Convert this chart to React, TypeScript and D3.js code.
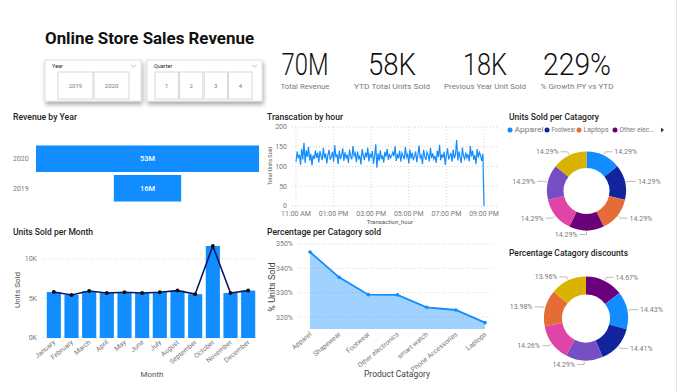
import React from 'react'
import * as d3 from 'd3'

const kpiValues = ['70M', '58K', '18K', '229%']
const kpiLabels = ['Total Revenue', 'YTD Total Units Sold', 'Previous Year Unit Sold', '% Growth PY vs YTD']

const yearButtons = ['2019', '2020']
const quarterButtons = ['1', '2', '3', '4']

const revenueYears = ['2020', '2019']
const revenueM = [53, 16]

// units sold per transaction slot, 11:00 AM .. 09:00 PM
const unitsByHour = [
  112, 138, 121, 130, 104, 145, 118, 160, 109, 141, 124, 150, 115, 132, 103,
  128, 119, 140, 122, 135, 110, 139, 126, 116, 147, 121, 133, 108, 129, 142,
  117, 125, 137, 112, 154, 123, 131, 106, 140, 119, 128, 146, 114, 136, 122,
  130, 109, 143, 125, 118, 152, 127, 134, 111, 138, 120, 126, 105, 144, 129,
  116, 135, 123, 148, 113, 131, 124, 139, 107, 127, 156, 97, 133, 115, 141,
  119, 128, 110, 137, 125, 145, 117, 132, 122, 128, 136, 126, 151, 114, 129,
  121, 140, 112, 134, 127, 118, 149, 124, 131, 108, 143, 120, 135, 116, 126,
  138, 111, 130, 153, 122, 128, 106, 142, 125, 117, 136, 129, 113, 147, 121,
  133, 119, 127, 109, 140, 124, 155, 116, 131, 122, 137, 104, 128, 146, 118,
  126, 134, 112, 143, 121, 130, 167, 115, 138, 124, 109, 148, 127, 119, 135,
  122, 131, 113, 152, 125, 140, 117, 129, 106, 144, 123, 136, 128, 114, 132, 0,
]
const hourTickValues = [0, 50, 100, 150, 200]

const months = ['January', 'February', 'March', 'April', 'May', 'June', 'July', 'August', 'September', 'October', 'November', 'December']
const unitsPerMonth = [5820, 5440, 5950, 5700, 5800, 5700, 5800, 6000, 5550, 11650, 5700, 6000]
const monthTicks = [0, 5000, 10000]

const productCats = ['Apparel', 'Shapewear', 'Footwear', 'Other electronics', 'smart watch', 'Phone Accessories', 'Laptops']
const pctUnitsSold = [346.7, 336.3, 329.2, 329.1, 324.0, 322.9, 317.7]
const pctTicks = [320, 330, 340, 350]

const donutCats = ['Apparel', 'Footwear', 'Laptops', 'Other electronics', 'Phone Accessories', 'Shapewear', 'smart watch']
const donutColors = ['#118DFF', '#12239E', '#E66C37', '#6B007B', '#E044A7', '#744EC2', '#D9B300']
const unitsShare = [14.29, 14.29, 14.29, 14.29, 14.29, 14.29, 14.29]
const discountCats = ['Other electronics', 'Apparel', 'Footwear', 'Shapewear', 'Phone Accessories', 'Laptops', 'smart watch']
const discountShare = [14.67, 14.43, 14.41, 14.29, 14.26, 13.98, 13.96]

const FONT = 'Roboto, "DejaVu Sans", sans-serif'
const GRAY = '#7a7a7a'
const DARK = '#252423'

const colorOf = (c: string) => donutColors[donutCats.indexOf(c)]

function Title({ x, y, text, w }: { x: number; y: number; text: string; w: number }) {
  return (
    <text x={x} y={y} fontSize={9.5} fontWeight={500} fill={DARK} textLength={w} lengthAdjust="spacingAndGlyphs">
      {text}
    </text>
  )
}

function Donut({ cx, cy, outer, inner, values, colors }: { cx: number; cy: number; outer: number; inner: number; values: number[]; colors: string[] }) {
  const arcs = d3.pie<number>().sort(null).value(d => d)(values)
  const arc = d3.arc<d3.PieArcDatum<number>>().innerRadius(inner).outerRadius(outer)
  return (
    <g transform={`translate(${cx},${cy})`}>
      {arcs.map((a, i) => (
        <path key={i} d={arc(a) || ''} fill={colors[i]} />
      ))}
      {arcs.map((a, i) => {
        const mid = (a.startAngle + a.endAngle) / 2
        const sx = Math.sin(mid)
        const sy = -Math.cos(mid)
        const right = sx > 0.01
        const ex = (outer + 4) * sx
        const ey = (outer + 4) * sy
        const hx = ex + (right ? 7 : -7)
        return (
          <g key={'l' + i}>
            <polyline
              points={`${(outer + 1) * sx},${(outer + 1) * sy} ${ex},${ey} ${hx},${ey}`}
              fill="none"
              stroke="#aaa"
              strokeWidth={0.8}
            />
            <text x={hx + (right ? 2 : -2)} y={ey} dy="0.35em" fontSize={7} fill={GRAY} textAnchor={right ? 'start' : 'end'}>
              {values[i].toFixed(2)}%
            </text>
          </g>
        )
      })}
    </g>
  )
}

export default function App() {
  // slicers
  const yearBand = d3.scaleBand<string>().domain(yearButtons).range([58, 129]).paddingInner(0.03)
  const quarterBand = d3.scaleBand<string>().domain(quarterButtons).range([155, 252]).paddingInner(0.05)

  // KPI cards
  const kpiX = [305, 392, 485, 577]
  const kpiW = [47, 48, 44, 68]
  const kpiLabelW = [49, 76, 82, 73]

  // revenue funnel
  const revY = d3.scaleBand<string>().domain(revenueYears).range([144, 203]).paddingInner(0.1).paddingOuter(0.05)
  const revW = d3.scaleLinear().domain([0, d3.max(revenueM) as number]).range([0, 223])
  const funnelCx = 147.5

  // transactions by hour
  const t0 = new Date(2020, 0, 1, 11)
  const t1 = new Date(2020, 0, 1, 21)
  const hx = d3.scaleTime().domain([t0, t1]).range([296, 484])
  const hy = d3.scaleLinear().domain([0, 200]).range([206, 127])
  const stepMs = (t1.getTime() - t0.getTime()) / (unitsByHour.length - 1)
  const hourLine = d3
    .line<number>()
    .x((d, i) => hx(new Date(t0.getTime() + i * stepMs)))
    .y(d => hy(d))
  const hourTicks = d3.timeHour.range(t0, new Date(t1.getTime() + 1), 2)
  const fmtHour = d3.timeFormat('%I:%M %p')

  // units per month
  const mx = d3.scaleBand<string>().domain(months).range([45, 257]).paddingInner(0.2).paddingOuter(0.1)
  const my = d3.scaleLinear().domain([0, 10000]).range([338, 259])
  const monthLine = d3
    .line<number>()
    .x((d, i) => (mx(months[i]) as number) + mx.bandwidth() / 2)
    .y(d => my(d))

  // percentage per category
  const px = d3.scalePoint<string>().domain(productCats).range([310, 485])
  const py = d3.scaleLinear().domain([315.1, 350]).range([329, 244])
  const pctArea = d3
    .area<number>()
    .x((d, i) => px(productCats[i]) as number)
    .y0(py(315.1))
    .y1(d => py(d))
  const pctLine = d3
    .line<number>()
    .x((d, i) => px(productCats[i]) as number)
    .y(d => py(d))

  const legendX = [510, 547, 579, 615]
  const legendW = [29, 24, 25, 35]
  const legendShown = ['Apparel', 'Footwear', 'Laptops', 'Other elec...']

  return (
    <svg width={680} height={392} style={{ position: 'absolute', left: 0, top: 0, fontFamily: FONT }}>
      <defs>
        <filter id="shadow" x="-10%" y="-20%" width="125%" height="150%">
          <feDropShadow dx="1" dy="3" stdDeviation="2" floodColor="#000" floodOpacity="0.35" />
        </filter>
      </defs>
      <rect width={680} height={392} fill="#fff" />
      <line x1={676.5} x2={676.5} y1={0} y2={392} stroke="#e4e4e4" />

      {/* header */}
      <text x={45} y={44} fontSize={17} fontWeight={700} fill="#111" textLength={209} lengthAdjust="spacingAndGlyphs">
        Online Store Sales Revenue
      </text>

      {/* slicers */}
      <rect x={45} y={60} width={96} height={41} fill="#fff" stroke="#e2e2e2" filter="url(#shadow)" />
      <text x={52} y={68} fontSize={5.5} fill={DARK}>Year</text>
      <polyline points="131,65 133.5,67 136,65" fill="none" stroke="#999" strokeWidth={0.6} />
      {yearButtons.map(b => (
        <g key={b}>
          <rect x={yearBand(b)} y={72} width={yearBand.bandwidth()} height={27} fill="#fff" stroke="#cfcfcf" strokeWidth={0.8} />
          <text x={(yearBand(b) as number) + yearBand.bandwidth() / 2} y={86} dy="0.35em" fontSize={6} fill={GRAY} textAnchor="middle">
            {b}
          </text>
        </g>
      ))}
      <rect x={147} y={60} width={115} height={41} fill="#fff" stroke="#e2e2e2" filter="url(#shadow)" />
      <text x={154} y={68} fontSize={5.5} fill={DARK}>Quarter</text>
      <polyline points="252,65 254.5,67 257,65" fill="none" stroke="#999" strokeWidth={0.6} />
      {quarterButtons.map(b => (
        <g key={b}>
          <rect x={quarterBand(b)} y={72} width={quarterBand.bandwidth()} height={27} fill="#fff" stroke="#cfcfcf" strokeWidth={0.8} />
          <text x={(quarterBand(b) as number) + quarterBand.bandwidth() / 2} y={86} dy="0.35em" fontSize={6} fill={GRAY} textAnchor="middle">
            {b}
          </text>
        </g>
      ))}

      {/* KPI cards */}
      {kpiValues.map((v, i) => (
        <g key={v}>
          <text x={kpiX[i]} y={75} fontSize={31} fontWeight={300} fill="#111" textAnchor="middle" textLength={kpiW[i]} lengthAdjust="spacingAndGlyphs">
            {v}
          </text>
          <text x={kpiX[i]} y={89} fontSize={8} fill={GRAY} textAnchor="middle" textLength={kpiLabelW[i]} lengthAdjust="spacingAndGlyphs">
            {kpiLabels[i]}
          </text>
        </g>
      ))}

      {/* Revenue by Year */}
      <Title x={13} y={120} text="Revenue by Year" w={64} />
      {revenueYears.map((yr, i) => {
        const w = revW(revenueM[i])
        const y = revY(yr) as number
        return (
          <g key={yr}>
            <text x={13} y={y + revY.bandwidth() / 2} dy="0.35em" fontSize={7} fill={GRAY}>{yr}</text>
            <rect x={funnelCx - w / 2} y={y} width={w} height={revY.bandwidth()} fill="#118DFF" />
            <text x={funnelCx} y={y + revY.bandwidth() / 2} dy="0.35em" fontSize={7.5} fontWeight={500} fill="#fff" textAnchor="middle">
              {revenueM[i]}M
            </text>
          </g>
        )
      })}

      {/* Transcation by hour */}
      <Title x={267} y={120} text="Transcation by hour" w={76} />
      {hourTickValues.map(t => (
        <g key={t}>
          <line x1={292} x2={498} y1={hy(t)} y2={hy(t)} stroke="#d6d6d6" strokeDasharray="1,2" />
          <text x={287} y={hy(t)} dy="0.35em" fontSize={7} fill={GRAY} textAnchor="end">{t}</text>
        </g>
      ))}
      {hourTicks.map(t => (
        <g key={t.getTime()}>
          <line x1={hx(t)} x2={hx(t)} y1={127} y2={206} stroke="#d6d6d6" strokeDasharray="1,2" />
          <text x={hx(t)} y={214} dy="0.35em" fontSize={7} fill={GRAY} textAnchor="middle">{fmtHour(t)}</text>
        </g>
      ))}
      <path d={hourLine(unitsByHour) || ''} fill="none" stroke="#118DFF" strokeWidth={1.2} />
      <text transform="translate(270,166) rotate(-90)" fontSize={5.5} fill="#555" textAnchor="middle" dy="0.35em">Total Units Sold</text>
      <text x={390} y={222} fontSize={6} fill="#555" textAnchor="middle" dy="0.35em">Transaction_hour</text>

      {/* Units Sold per Catagory */}
      <Title x={509} y={120} text="Units Sold per Catagory" w={90} />
      {legendShown.map((l, i) => (
        <g key={l}>
          <circle cx={legendX[i]} cy={130} r={2.5} fill={donutColors[i]} />
          <text x={legendX[i] + 4.5} y={130} dy="0.35em" fontSize={7} fill={GRAY} textLength={legendW[i]} lengthAdjust="spacingAndGlyphs">{l}</text>
        </g>
      ))}
      <path d="M661,127.5 L664,130 L661,132.5 Z" fill="#333" />
      <Donut cx={586.5} cy={191} outer={39.5} inner={23} values={unitsShare} colors={donutColors} />

      {/* Units Sold per Month */}
      <Title x={13} y={235} text="Units Sold per Month" w={80} />
      {monthTicks.map(t => (
        <g key={t}>
          <line x1={42} x2={258} y1={my(t)} y2={my(t)} stroke="#d6d6d6" strokeDasharray="1,2" />
          <text x={37} y={my(t)} dy="0.35em" fontSize={7} fill={GRAY} textAnchor="end">{t / 1000}K</text>
        </g>
      ))}
      {months.map((m, i) => (
        <g key={m}>
          <rect x={mx(m)} y={my(unitsPerMonth[i])} width={mx.bandwidth()} height={my(0) - my(unitsPerMonth[i])} fill="#118DFF" />
          <text
            transform={`translate(${(mx(m) as number) + mx.bandwidth() / 2 + 2},${343}) rotate(-40)`}
            fontSize={6.8}
            fill={GRAY}
            textAnchor="end"
          >
            {m}
          </text>
        </g>
      ))}
      <path d={monthLine(unitsPerMonth) || ''} fill="none" stroke="#0B1660" strokeWidth={1.6} />
      {unitsPerMonth.map((v, i) => (
        <circle key={i} cx={(mx(months[i]) as number) + mx.bandwidth() / 2} cy={my(v)} r={2} fill="#111" />
      ))}
      <text transform="translate(17,290) rotate(-90)" fontSize={8} fill="#555" textAnchor="middle" dy="0.35em">Units Sold</text>
      <text x={152} y={374} fontSize={8} fill="#555" textAnchor="middle" dy="0.35em">Month</text>

      {/* Percentage per Catagory sold */}
      <Title x={267} y={235} text="Percentage per Catagory sold" w={114} />
      {pctTicks.map(t => (
        <g key={t}>
          <line x1={298} x2={493} y1={py(t)} y2={py(t)} stroke="#d6d6d6" strokeDasharray="1,2" />
          <text x={293} y={py(t)} dy="0.35em" fontSize={7} fill={GRAY} textAnchor="end">{t}%</text>
        </g>
      ))}
      <path d={pctArea(pctUnitsSold) || ''} fill="#118DFF" fillOpacity={0.4} />
      <path d={pctLine(pctUnitsSold) || ''} fill="none" stroke="#118DFF" strokeWidth={1.8} />
      {pctUnitsSold.map((v, i) => (
        <circle key={i} cx={px(productCats[i])} cy={py(v)} r={1.8} fill="#118DFF" />
      ))}
      {productCats.map(c => (
        <text key={c} transform={`translate(${(px(c) as number) + 2},${335}) rotate(-40)`} fontSize={6.8} fill={GRAY} textAnchor="end">
          {c}
        </text>
      ))}
      <text transform="translate(272,287) rotate(-90)" fontSize={9} fill="#444" textAnchor="middle" dy="0.35em">% Units Sold</text>
      <text x={397} y={374} fontSize={8.5} fill="#444" textAnchor="middle" dy="0.35em">Product Catagory</text>

      {/* Percentage Catagory discounts */}
      <Title x={509} y={256} text="Percentage Catagory discounts" w={119} />
      <Donut cx={586} cy={318.5} outer={42} inner={24} values={discountShare} colors={discountCats.map(colorOf)} />
    </svg>
  )
}
